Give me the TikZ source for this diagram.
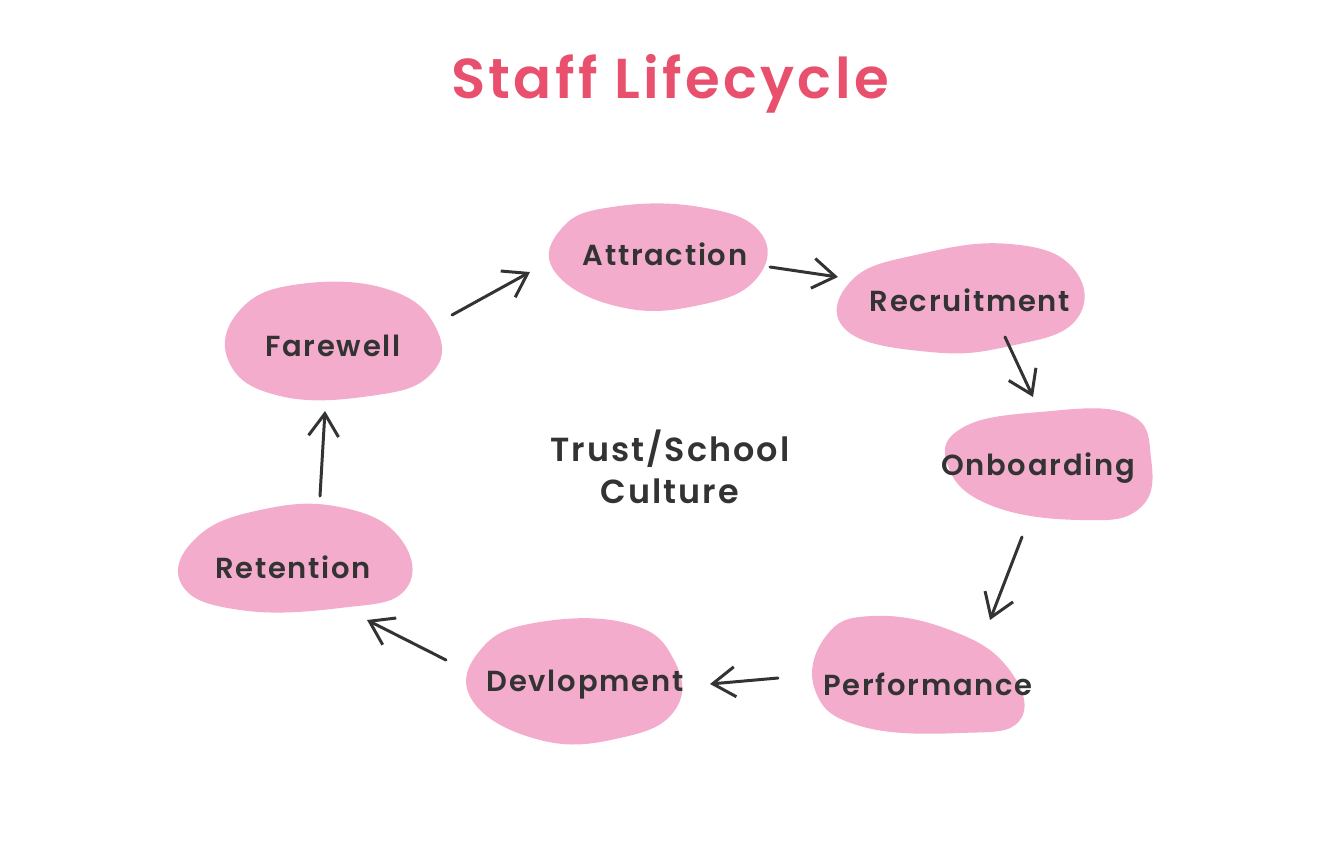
\documentclass[tikz,border=0pt]{standalone}
\usepackage{fontspec}
\setmainfont{Poppins}[BoldFont={Poppins SemiBold}, LetterSpace=6.0]
\usepackage{xcolor}
\usetikzlibrary{arrows.meta}
\definecolor{blobpink}{HTML}{F4ACCC}
\definecolor{titlered}{HTML}{E8506D}
\definecolor{inkgray}{HTML}{333333}

\begin{document}
\begin{tikzpicture}[x=0.02cm, y=-0.02cm,
	stage/.style={font=\fontsize{16.5}{20}\selectfont\bfseries, text=inkgray},
	blob/.style={fill=blobpink, draw=none},
	sketch/.style={draw=inkgray, line width=1.7pt, line cap=round,
		-{Straight Barb[length=4.5mm, width=6mm, line width=1.7pt]}}]
	\useasboundingbox (0,0) rectangle (1333,853);
	
	%blobs
	\path[blob] plot[smooth cycle, tension=0.75] coordinates {(562,228) (612,207) (700,207) (760,232) (757,278) (700,305) (620,307) (555,272)};
	\path[blob] plot[smooth cycle, tension=0.75] coordinates {(852,280) (920,254) (1010,244) (1073,268) (1076,320) (1010,346) (930,352) (846,330)};
	\path[blob] plot[smooth cycle, tension=0.75] coordinates {(962,428) (1040,412) (1128,414) (1151,458) (1140,508) (1080,520) (990,505) (948,466)};
	\path[blob] plot[smooth cycle, tension=0.75] coordinates {(826,636) (872,616) (950,630) (1008,668) (1020,720) (960,733) (860,726) (815,690)};
	\path[blob] plot[smooth cycle, tension=0.75] coordinates {(482,648) (540,622) (630,624) (674,660) (675,710) (620,738) (540,740) (472,700)};
	\path[blob] plot[smooth cycle, tension=0.75] coordinates {(196,538) (260,510) (340,507) (400,538) (405,590) (340,608) (240,610) (182,585)};
	\path[blob] plot[smooth cycle, tension=0.75] coordinates {(240,310) (300,284) (390,290) (437,330) (430,375) (370,396) (280,396) (229,362)};
	
	%nodes
	\node[font=\fontsize{32}{38}\selectfont\bfseries, text=titlered] (title) at (670,84) {Staff Lifecycle};
	\node[stage] (attr) at (665,254) {Attraction};
	\node[stage] (recr) at (970,300) {Recruitment};
	\node[stage] (onbo) at (1038,468) {Onboarding};
	\node[stage] (perf) at (928,684) {Performance};
	\node[stage] (devl) at (585,685) {Devlopment};
	\node[stage] (rete) at (293,567) {Retention};
	\node[stage] (fare) at (333,346) {Farewell};
	\node[stage, align=center, font=\fontsize{19}{24}\selectfont\bfseries] (cult) at (670,467) {Trust/School\\Culture};
	
	%coordinates
	\coordinate (fa0) at (452,315); \coordinate (fa1) at (530,272);
	\coordinate (ar0) at (770,267); \coordinate (ar1) at (838,277);
	\coordinate (ro0) at (1005,337); \coordinate (ro1) at (1033,397);
	\coordinate (op0) at (1022,537); \coordinate (op1) at (990,620);
	\coordinate (pd0) at (778,678); \coordinate (pd1) at (710,684);
	\coordinate (dr0) at (446,660); \coordinate (dr1) at (367,620);
	\coordinate (rf0) at (320,496); \coordinate (rf1) at (325,411);
	
	\draw[sketch] (fa0) -- (fa1);
	\draw[sketch] (ar0) -- (ar1);
	\draw[sketch] (ro0) -- (ro1);
	\draw[sketch] (op0) -- (op1);
	\draw[sketch] (pd0) -- (pd1);
	\draw[sketch] (dr0) -- (dr1);
	\draw[sketch] (rf0) -- (rf1);
\end{tikzpicture}
\end{document}
